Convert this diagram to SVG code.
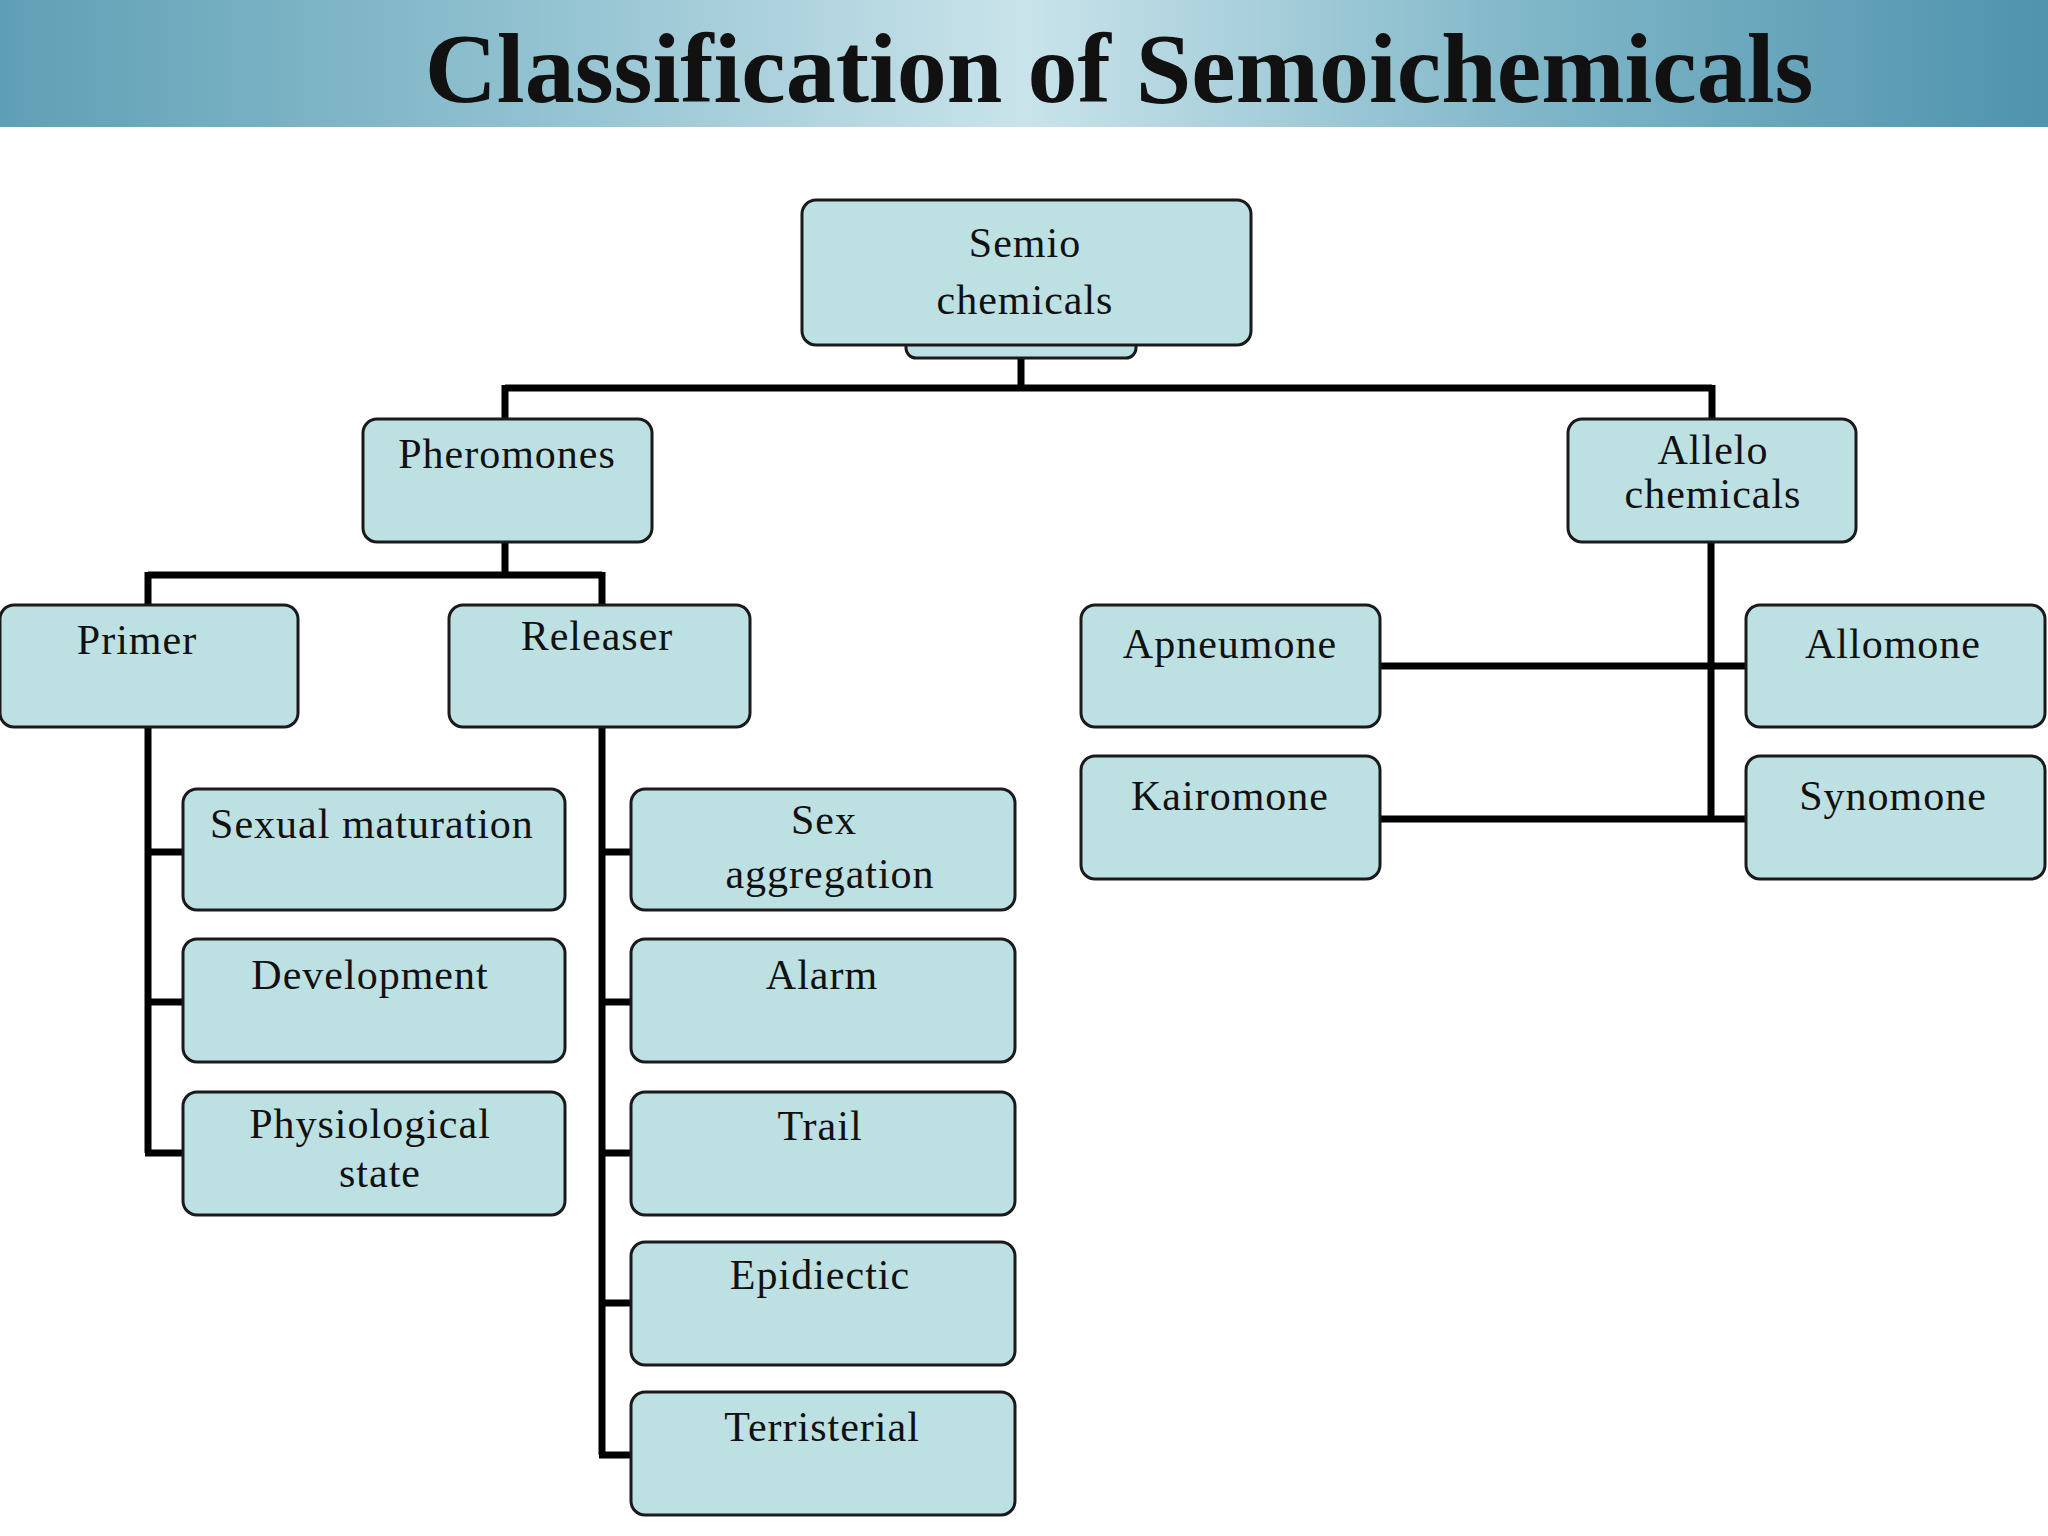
<svg xmlns="http://www.w3.org/2000/svg" width="2048" height="1536" viewBox="0 0 2048 1536">
<defs>
<linearGradient id="hdr" x1="0" y1="0" x2="1" y2="0">
<stop offset="0" stop-color="#5f9fb5"/><stop offset="0.25" stop-color="#8fc0cf"/><stop offset="0.5" stop-color="#c9e3ea"/><stop offset="0.75" stop-color="#7fb6c8"/><stop offset="1" stop-color="#4f93ad"/>
</linearGradient>
<style>
.n{fill:#bde0e3;stroke:#1a1a1a;stroke-width:3}
.t{font-family:"Liberation Serif",serif;font-size:42px;fill:#111;text-anchor:middle;letter-spacing:1px}
.c{fill:none;stroke:#000;stroke-width:7}
</style>
</defs>
<rect width="2048" height="1536" fill="#fff"/>
<rect x="0" y="0" width="2048" height="127" fill="url(#hdr)"/>
<text x="1119" y="102" font-family="Liberation Serif,serif" font-weight="bold" font-size="100" text-anchor="middle" fill="#111">Classification of Semoichemicals</text>
<g id="connectors">
<path class="c" d="M1021 358V388M505 388H1712M505 385V419M1712 385V419"/>
<path class="c" d="M505 542V575M148 575H602M148 572V605M602 572V605"/>
<path class="c" d="M148 727V1153M145 852H183M145 1002H183M145 1153H183"/>
<path class="c" d="M602 727V1455M599 852H631M599 1002H631M599 1153H631M599 1303H631M599 1455H631"/>
<path class="c" d="M1711 542V819M1380 666H1746M1380 819H1746"/>
</g>
<g id="semio"><rect class="n" x="906" y="330" width="230" height="28" rx="10"/><rect class="n" x="802" y="200" width="449" height="145" rx="14"/><text class="t" x="1025" y="257" font-size="47">Semio</text><text class="t" x="1025" y="314" font-size="47">chemicals</text></g>
<g id="pheromones"><rect class="n" x="363" y="419" width="289" height="123" rx="14"/><text class="t" x="507" y="468">Pheromones</text></g>
<g id="allelo"><rect class="n" x="1568" y="419" width="288" height="123" rx="14"/><text class="t" x="1713" y="464" font-size="36">Allelo</text><text class="t" x="1713" y="508" font-size="36">chemicals</text></g>
<g id="primer"><rect class="n" x="0" y="605" width="298" height="122" rx="14"/><text class="t" x="137" y="654">Primer</text></g>
<g id="releaser"><rect class="n" x="449" y="605" width="301" height="122" rx="14"/><text class="t" x="597" y="650" font-size="37" letter-spacing="2">Releaser</text></g>
<g id="apneumone"><rect class="n" x="1081" y="605" width="299" height="122" rx="14"/><text class="t" x="1230" y="658">Apneumone</text></g>
<g id="allomone"><rect class="n" x="1746" y="605" width="299" height="122" rx="14"/><text class="t" x="1893" y="658">Allomone</text></g>
<g id="kairomone"><rect class="n" x="1081" y="756" width="299" height="123" rx="14"/><text class="t" x="1230" y="810">Kairomone</text></g>
<g id="synomone"><rect class="n" x="1746" y="756" width="299" height="123" rx="14"/><text class="t" x="1893" y="810">Synomone</text></g>
<g id="sexual"><rect class="n" x="183" y="789" width="382" height="121" rx="14"/><text class="t" x="372" y="838" font-size="39">Sexual maturation</text></g>
<g id="development"><rect class="n" x="183" y="939" width="382" height="123" rx="14"/><text class="t" x="370" y="989">Development</text></g>
<g id="physio"><rect class="n" x="183" y="1092" width="382" height="123" rx="14"/><text class="t" x="370" y="1138">Physiological</text><text class="t" x="380" y="1187">state</text></g>
<g id="sexagg"><rect class="n" x="631" y="789" width="384" height="121" rx="14"/><text class="t" x="824" y="834">Sex</text><text class="t" x="830" y="888">aggregation</text></g>
<g id="alarm"><rect class="n" x="631" y="939" width="384" height="123" rx="14"/><text class="t" x="822" y="989">Alarm</text></g>
<g id="trail"><rect class="n" x="631" y="1092" width="384" height="123" rx="14"/><text class="t" x="820" y="1140">Trail</text></g>
<g id="epidiectic"><rect class="n" x="631" y="1242" width="384" height="123" rx="14"/><text class="t" x="820" y="1289" font-size="39">Epidiectic</text></g>
<g id="teristerial"><rect class="n" x="631" y="1392" width="384" height="123" rx="14"/><text class="t" x="822" y="1441">Terristerial</text></g>
</svg>
